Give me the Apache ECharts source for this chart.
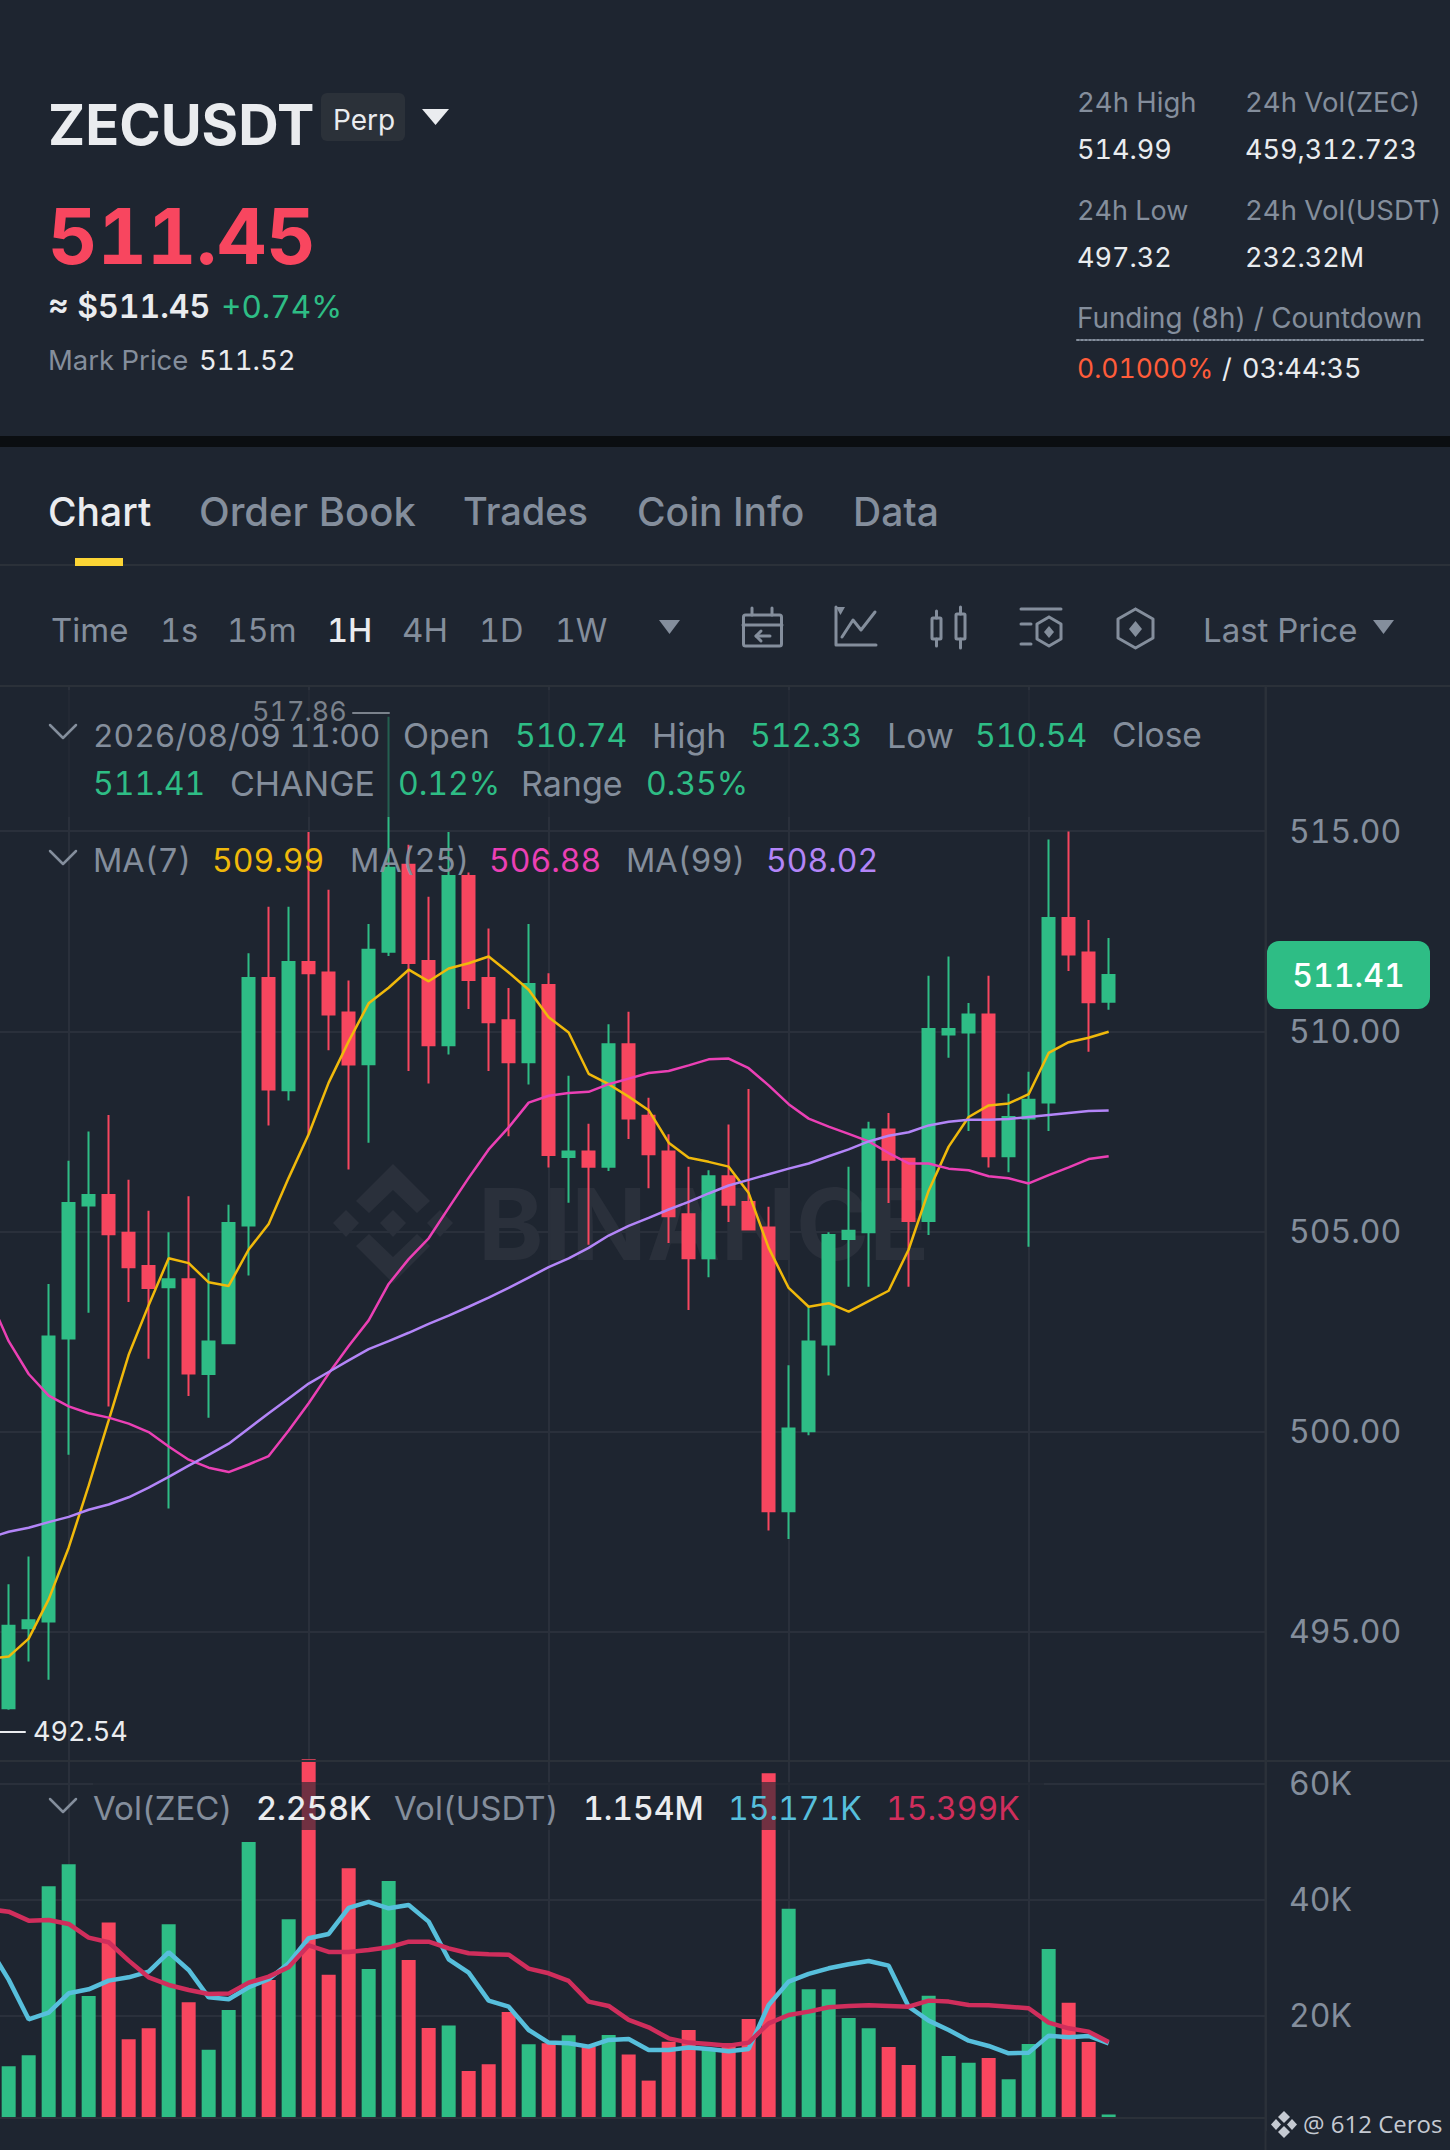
<!DOCTYPE html>
<html>
<head>
<meta charset="utf-8">
<style>html,body{margin:0;padding:0;background:#1e2530}#c{width:1450px;height:2150px}#c text{font-variant-numeric:tabular-nums !important;font-feature-settings:"tnum" 1 !important}</style>
<script src="https://cdn.jsdelivr.net/npm/echarts@6/dist/echarts.min.js"></script>
</head>
<body>
<div id="c"></div>
<script>
// Hourly candles, oldest first
const opens = [493.09,495.09,495.26,502.33,505.65,505.91,504.97,504.14,503.61,503.81,501.44,502.21,505.15,511.33,508.53,511.73,511.47,510.47,509.18,511.99,514.16,511.76,509.65,513.88,511.33,510.28,509.23,511.16,506.86,507.00,506.62,509.68,507.89,507.00,505.43,504.33,506.38,505.74,505.10,498.01,500.01,502.18,504.81,504.98,507.55,506.82,505.26,509.92,509.97,510.42,506.88,507.82,508.22,512.83,511.97,510.74];
const closes = [495.15,495.29,502.38,505.71,505.91,504.93,504.11,503.59,503.81,501.45,502.25,505.21,511.33,508.55,511.73,511.45,510.42,509.17,512.04,514.09,511.71,509.65,513.88,511.28,510.23,509.23,511.18,506.91,507.00,506.62,509.68,507.82,506.93,505.38,504.33,506.38,505.67,505.05,498.01,500.08,502.25,504.91,505.02,507.55,506.79,505.26,510.06,510.06,510.42,506.88,507.86,508.29,512.83,511.92,510.73,511.41];
const lows = [493.05,494.26,493.80,499.42,502.97,500.63,503.24,501.82,498.08,500.89,500.35,502.20,503.90,507.65,508.27,507.43,509.53,506.55,507.22,511.88,509.01,508.70,509.42,510.56,509.01,507.38,508.67,506.60,505.72,504.67,506.51,507.31,506.08,504.71,503.04,503.86,505.24,505.05,497.53,497.32,499.91,501.40,503.62,503.62,505.71,503.62,504.91,509.34,507.51,506.60,506.48,504.62,507.51,511.51,509.49,510.54];
const highs = [496.19,496.88,503.69,506.77,507.50,507.91,506.29,505.52,504.98,505.88,503.97,505.67,511.95,513.11,513.11,514.98,513.54,511.27,512.68,517.86,514.66,513.36,514.98,513.97,512.57,511.08,512.68,511.45,508.89,507.69,510.18,510.49,508.34,507.43,506.62,506.53,507.67,508.56,505.62,501.66,503.12,504.98,506.62,507.74,507.96,506.82,511.39,511.87,510.71,511.39,508.44,508.99,514.79,514.99,512.78,512.33];
const volumes = [11210,13100,42240,46030,23330,35980,15860,17760,35690,22240,14080,20920,49890,26090,36550,64140,27010,45340,27990,43160,29540,17820,18220,10400,11550,20570,15000,15170,16550,14600,16610,13220,8740,15460,17470,14310,15170,19370,61720,38390,24480,24480,19540,17760,14540,11440,23390,12990,11840,12640,8970,15060,31440,22180,15400,2900];

// Moving averages start one candle earlier, off the left edge
const ma7 = [494.33,494.38,494.83,495.81,497.10,498.65,500.28,501.92,503.16,504.33,504.21,503.73,503.64,504.55,505.19,506.34,507.43,508.72,509.75,510.70,511.09,511.54,511.25,511.57,511.70,511.87,511.47,511.04,510.35,509.97,508.94,508.68,508.37,508.03,507.22,506.84,506.74,506.62,505.96,504.59,503.59,503.12,503.21,503.00,503.26,503.52,504.55,506.02,507.12,507.86,508.15,508.20,508.43,509.46,509.73,509.84,509.99];
const ma25 = [503.38,502.26,501.44,500.90,500.63,500.46,500.35,500.20,499.99,499.63,499.30,499.10,498.99,499.18,499.39,500.03,500.71,501.45,502.14,502.78,503.69,504.31,504.83,505.59,506.34,507.05,507.60,508.22,508.39,508.46,508.49,508.68,508.82,508.96,509.01,509.15,509.30,509.32,509.08,508.65,508.18,507.82,507.62,507.44,507.25,506.96,506.70,506.70,506.57,506.53,506.38,506.33,506.20,506.41,506.60,506.81,506.88];
const ma99 = [497.34,497.50,497.60,497.74,497.87,498.05,498.18,498.36,498.60,498.87,499.15,499.42,499.70,500.08,500.46,500.83,501.20,501.49,501.78,502.06,502.26,502.47,502.69,502.90,503.12,503.35,503.59,503.85,504.11,504.33,504.59,504.90,505.14,505.34,505.55,505.74,505.95,506.15,506.29,506.43,506.57,506.70,506.88,507.05,507.25,507.39,507.48,507.65,507.74,507.79,507.79,507.81,507.86,507.91,507.96,508.01,508.02];
const volMaFast = [31840,26150,19310,20460,23790,24480,25980,26550,27530,30860,27820,23100,22760,24830,26210,28970,33280,34020,38510,39540,38450,39020,36150,29660,27360,22530,21490,17470,15290,15170,14600,15750,15920,14020,14020,14430,14200,13790,14200,21780,25800,27130,28100,28790,29370,28560,21490,19080,17470,15630,14710,13450,13560,16490,16210,16440,15171];
const volMaSlow = [38280,37870,36320,36440,35750,33390,32590,29430,26550,25230,24370,23680,23740,25630,26670,28280,32070,30920,30920,31260,31720,32700,32700,31550,30690,30520,30460,28050,27240,25920,22360,21610,19200,17930,16030,15290,15060,14770,15290,18620,20060,20630,21380,21610,21720,21610,21490,22530,22360,21780,21720,21490,21210,18740,17760,17180,15399];

// Axis ticks
const priceTickStep = 5;
const volumeTickStep = 20000;
const hoursPerGridLine = 12;
const lastPrice = 511.41;

// Colours
const BG = '#1e2530', GREEN = '#2ebd85', RED = '#f8465f', GREY = '#848e9c', WHITE = '#eaecef', GRIDC = '#2a303b';
const FONT = 'Inter, "Noto Sans", sans-serif';

// x position of candle 0 in axis units (grid lines fall on multiples of 12)
const firstSlot = 9;
const candleData = opens.map((o, i) => [i + firstSlot, o, closes[i], lows[i], highs[i]]);
const volumeData = volumes.map((v, i) => ({
  value: [i + firstSlot, v],
  itemStyle: { color: closes[i] >= opens[i] ? GREEN : RED }
}));
const lineData = arr => arr.map((v, i) => [i + firstSlot - 1, v]);

// ---------- static page furniture ----------
const els = [];
function T(x, y, text, size, fill, o) {
  o = o || {};
  els.push({ type: 'text', z: o.z || 60, silent: true, style: {
    x, y, text, fill, align: o.align || 'left', verticalAlign: 'middle',
    font: (o.w || 400) + ' ' + size + 'px ' + (o.font || FONT)
  }});
}
function R(x, y, w, h, fill, z, r) {
  els.push({ type: 'rect', z: z || 55, silent: true, shape: { x, y, width: w, height: h, r: r || 0 }, style: { fill } });
}
function P(points, fill, z) {
  els.push({ type: 'polygon', z: z || 60, silent: true, shape: { points }, style: { fill } });
}
function L(points, stroke, width, z, dash) {
  els.push({ type: 'polyline', z: z || 60, silent: true, shape: { points }, style: { stroke, lineWidth: width, fill: 'none', lineDash: dash, lineCap: 'round', lineJoin: 'round' } });
}
function SR(x, y, w, h, stroke, width, r) {
  els.push({ type: 'rect', z: 60, silent: true, shape: { x, y, width: w, height: h, r: r || 0 }, style: { stroke, lineWidth: width, fill: 'none' } });
}

// Watermark under the series
const WM = '#2a303b';
P([[393,1164],[430,1201],[417,1213],[393,1190],[369,1213],[356,1201]], WM, 1);
P([[393,1283],[430,1246],[417,1234],[393,1257],[369,1234],[356,1246]], WM, 1);
P([[346,1210],[359,1223],[346,1237],[333,1223]], WM, 1);
P([[393,1210],[406,1223],[393,1237],[380,1223]], WM, 1);
P([[440,1210],[453,1223],[440,1237],[427,1223]], WM, 1);
T(478, 1224, 'BINANCE', 99, WM, { w: 700, z: 1 });

// Covers above and below the panes
R(0, 0, 1450, 686, BG, 50);
R(0, 436, 1450, 11, '#0b0e11', 51);
R(0, 2118, 1264, 32, BG, 50);
R(0, 564, 1450, 2, '#2b3139', 51);
R(0, 685, 1450, 2, '#2b3139', 51);
R(0, 1760, 1450, 2, '#2b3139', 45);
R(0, 2117, 1265, 2, '#2b3139', 51);
R(1264.5, 686, 2, 1464, '#2b3139', 51);

// Header
T(48, 125, 'ZECUSDT', 56, '#eaecef', { w: 700 });
R(321, 93, 84, 48, '#2b3139', 51, 6);
T(333, 120, 'Perp', 28, WHITE);
P([[422,109],[449,109],[435.5,125]], '#eaecef');
T(48, 236, '511.45', 76.5, RED, { w: 700 });
T(48, 306, '≈ $511.45', 32, WHITE, { w: 600 });
T(221, 306, '+0.74%', 31.5, GREEN);
T(48, 360, 'Mark Price', 27.5, GREY);
T(199, 360, '511.52', 27.5, WHITE);
T(1077, 102, '24h High', 27.5, GREY);
T(1245, 102, '24h Vol(ZEC)', 27.5, GREY);
T(1077, 149, '514.99', 27, WHITE);
T(1245, 149, '459,312.723', 27, WHITE);
T(1077, 210, '24h Low', 27, GREY);
T(1245, 210, '24h Vol(USDT)', 27.5, GREY);
T(1077, 257, '497.32', 27, WHITE);
T(1245, 257, '232.32M', 27, WHITE);
T(1077, 318, 'Funding (8h) / Countdown', 27.8, GREY);
L([[1077,340],[1423,340]], GREY, 2, 60, [2, 2]);
T(1077, 368, '0.01000%', 26.5, '#ff5c3a');
T(1222, 368, '/', 27, WHITE);
T(1242, 368, '03:44:35', 27, WHITE);

// Tabs
T(48, 511, 'Chart', 39, WHITE, { w: 500 });
T(199, 511, 'Order Book', 40, GREY, { w: 500 });
T(463, 511, 'Trades', 38, GREY, { w: 500 });
T(637, 511, 'Coin Info', 39, GREY, { w: 500 });
T(853, 511, 'Data', 39, GREY, { w: 500 });
R(75, 558, 48, 8, '#fcd535', 52);

// Toolbar
T(51, 630, 'Time', 33, GREY);
T(160, 630, '1s', 32.5, GREY);
T(227, 630, '15m', 32, GREY);
T(327, 630, '1H', 32.5, WHITE, { w: 500 });
T(402, 630, '4H', 33, GREY);
T(479, 630, '1D', 32.5, GREY);
T(555, 630, '1W', 32, GREY);
P([[659,620],[680,620],[669.5,634]], GREY);
T(1203, 630, 'Last Price', 33, GREY);
P([[1373,620],[1394,620],[1383.5,634]], GREY);
// calendar
SR(743.5, 615, 38, 31, GREY, 3, 2);
L([[743,625],[782,625]], GREY, 3);
L([[752,608],[752,615]], GREY, 3);
L([[772,608],[772,615]], GREY, 3);
L([[770,636],[756,636]], GREY, 3);
L([[761,631],[756,636],[761,641]], GREY, 3);
// line-chart
L([[836,607],[836,645],[876,645]], GREY, 3);
L([[842,637],[853,620],[861,630],[875,612]], GREY, 3);
P([[836,607],[845,607],[840.5,615]], GREY);
// candles
SR(932, 618, 9, 21, GREY, 3, 1);
SR(956, 614, 9, 25, GREY, 3, 1);
L([[936.5,611],[936.5,618]], GREY, 3);
L([[936.5,639],[936.5,646]], GREY, 3);
L([[960.5,607],[960.5,614]], GREY, 3);
L([[960.5,639],[960.5,648]], GREY, 3);
// indicators
L([[1021,609],[1061,609]], GREY, 3);
L([[1021,624],[1031,624]], GREY, 3);
L([[1021,644],[1031,644]], GREY, 3);
L([[1049,617],[1061,624],[1061,639],[1049,646],[1037,639],[1037,624],[1049,617]], GREY, 3);
P([[1049,626],[1054,632],[1049,638],[1044,632]], GREY);
// hexagon
L([[1135.5,609],[1153,619],[1153,638],[1135.5,648],[1118,638],[1118,619],[1135.5,609]], GREY, 3);
P([[1135.5,621],[1142,629],[1135.5,637],[1129,629]], GREY);

// Legend backdrops
R(40, 690, 1170, 127, 'rgba(30,37,48,0.62)', 40);
R(93, 1782, 951, 48, 'rgba(30,37,48,0.62)', 46);

// Price legend
L([[50,725],[63,738],[76,725]], GREY, 2.5);
T(93, 735, '2026/08/09 11:00', 31.8, GREY);
T(403, 735, 'Open', 34, GREY);
T(515, 735, '510.74', 32, GREEN);
T(652, 735, 'High', 34, GREY);
T(750, 735, '512.33', 32, GREEN);
T(887, 735, 'Low', 34, GREY);
T(975, 735, '510.54', 32, GREEN);
T(1112, 735, 'Close', 33.5, GREY);
T(93, 783, '511.41', 32, GREEN);
T(230, 783, 'CHANGE', 34, GREY);
T(398, 783, '0.12%', 32, GREEN);
T(521, 783, 'Range', 34, GREY);
T(646, 783, '0.35%', 32, GREEN);
L([[50,851],[63,864],[76,851]], GREY, 2.5);
T(93, 860, 'MA(7)', 32.5, GREY);
T(212, 860, '509.99', 32, '#f0b90b');
T(350, 860, 'MA(25)', 32.5, GREY);
T(489, 860, '506.88', 32, '#eb40b5');
T(626, 860, 'MA(99)', 32.5, GREY);
T(766, 860, '508.02', 32, '#b385f8');

// High / low tags
T(252, 711, '517.86', 27, '#7b828c');
L([[353,713],[389,713]], '#7b828c', 2);
L([[0,1732],[25,1732]], WHITE, 2);
T(33, 1731, '492.54', 27, WHITE);

// Last-price pill
R(1267, 941, 163, 68, GREEN, 52, 12);
T(1348.5, 975, String(lastPrice), 32, '#ffffff', { w: 500, align: 'center' });

// Volume legend
L([[50,1799],[63,1812],[76,1799]], GREY, 2.5);
T(93, 1808, 'Vol(ZEC)', 33, GREY);
T(256, 1808, '2.258K', 32.5, WHITE, { w: 500 });
T(394, 1808, 'Vol(USDT)', 33, GREY);
T(583, 1808, '1.154M', 32, WHITE, { w: 500 });
T(728, 1808, '15.171K', 32, '#57bfdc');
T(886, 1808, '15.399K', 32, '#d02e5c');

// Attribution
const AT = '#c5cad2';
P([[1284,2111],[1290,2117],[1284,2123],[1278,2117]], AT);
P([[1284,2126],[1290,2132],[1284,2138],[1278,2132]], AT);
P([[1276,2119],[1281,2124.5],[1276,2130],[1271,2124.5]], AT);
P([[1292,2119],[1297,2124.5],[1292,2130],[1287,2124.5]], AT);
T(1303, 2123, '@ 612 Ceros', 24, AT, { font: '"Open Sans", sans-serif' });

// ---------- chart ----------
const chart = echarts.init(document.getElementById('c'), null, { renderer: 'svg', width: 1450, height: 2150 });
const sharedX = {
  type: 'value', min: 0, max: 71.867, interval: hoursPerGridLine,
  axisLine: { show: false }, axisTick: { show: false }, axisLabel: { show: false },
  splitLine: { show: true, lineStyle: { color: GRIDC, width: 2 } }
};
const line = (name, data, color, width, xi, yi, z) => ({
  name, type: 'line', data: lineData(data), xAxisIndex: xi, yAxisIndex: yi,
  showSymbol: false, symbol: 'none', smooth: false, z: z || 5, silent: true,
  lineStyle: { color, width }
});
chart.setOption({
  animation: false,
  backgroundColor: BG,
  grid: [
    { left: -171.33, width: 1437.33, top: 631.05, height: 1200.9, containLabel: false, outerBoundsMode: 'none' },
    { left: -171.33, width: 1437.33, top: 1667.3, height: 464, containLabel: false, outerBoundsMode: 'none' }
  ],
  xAxis: [
    Object.assign({ gridIndex: 0 }, sharedX),
    Object.assign({ gridIndex: 1 }, sharedX)
  ],
  yAxis: [
    { gridIndex: 0, type: 'value', position: 'right', min: 490, max: 520, interval: priceTickStep, scale: true,
      axisLine: { show: false }, axisTick: { show: false },
      axisLabel: { color: GREY, fontSize: 32, fontFamily: FONT, margin: 23, showMinLabel: false, showMaxLabel: false,
        padding: [0, 0, 9, 0], formatter: v => v.toFixed(2) },
      splitLine: { show: true, showMinLine: false, showMaxLine: false, lineStyle: { color: GRIDC, width: 2 } } },
    { gridIndex: 1, type: 'value', position: 'right', min: 0, max: 80000, interval: volumeTickStep,
      axisLine: { show: false }, axisTick: { show: false },
      axisLabel: { color: GREY, fontSize: 32, fontFamily: FONT, margin: 23, showMinLabel: false, showMaxLabel: false,
        padding: [0, 0, 11, 0], formatter: v => (v / 1000) + 'K' },
      splitLine: { show: true, showMinLine: false, showMaxLine: false, lineStyle: { color: GRIDC, width: 2 } } }
  ],
  series: [
    { name: 'Price', type: 'candlestick', xAxisIndex: 0, yAxisIndex: 0, data: candleData, barWidth: 12, z: 3, silent: true,
      itemStyle: { color: GREEN, color0: RED, borderColor: GREEN, borderColor0: RED, borderWidth: 2 } },
    line('MA(7)', ma7, '#f0b90b', 2.5, 0, 0),
    line('MA(25)', ma25, '#eb40b5', 2.5, 0, 0),
    line('MA(99)', ma99, '#b385f8', 2.5, 0, 0),
    { name: 'Vol', type: 'bar', xAxisIndex: 1, yAxisIndex: 1, data: volumeData, barWidth: 14, z: 3, silent: true },
    line('Vol fast', volMaFast, '#57bfdc', 4.5, 1, 1),
    line('Vol slow', volMaSlow, '#d02e5c', 4.5, 1, 1)
  ],
  graphic: { elements: els }
});
</script>
</body>
</html>
